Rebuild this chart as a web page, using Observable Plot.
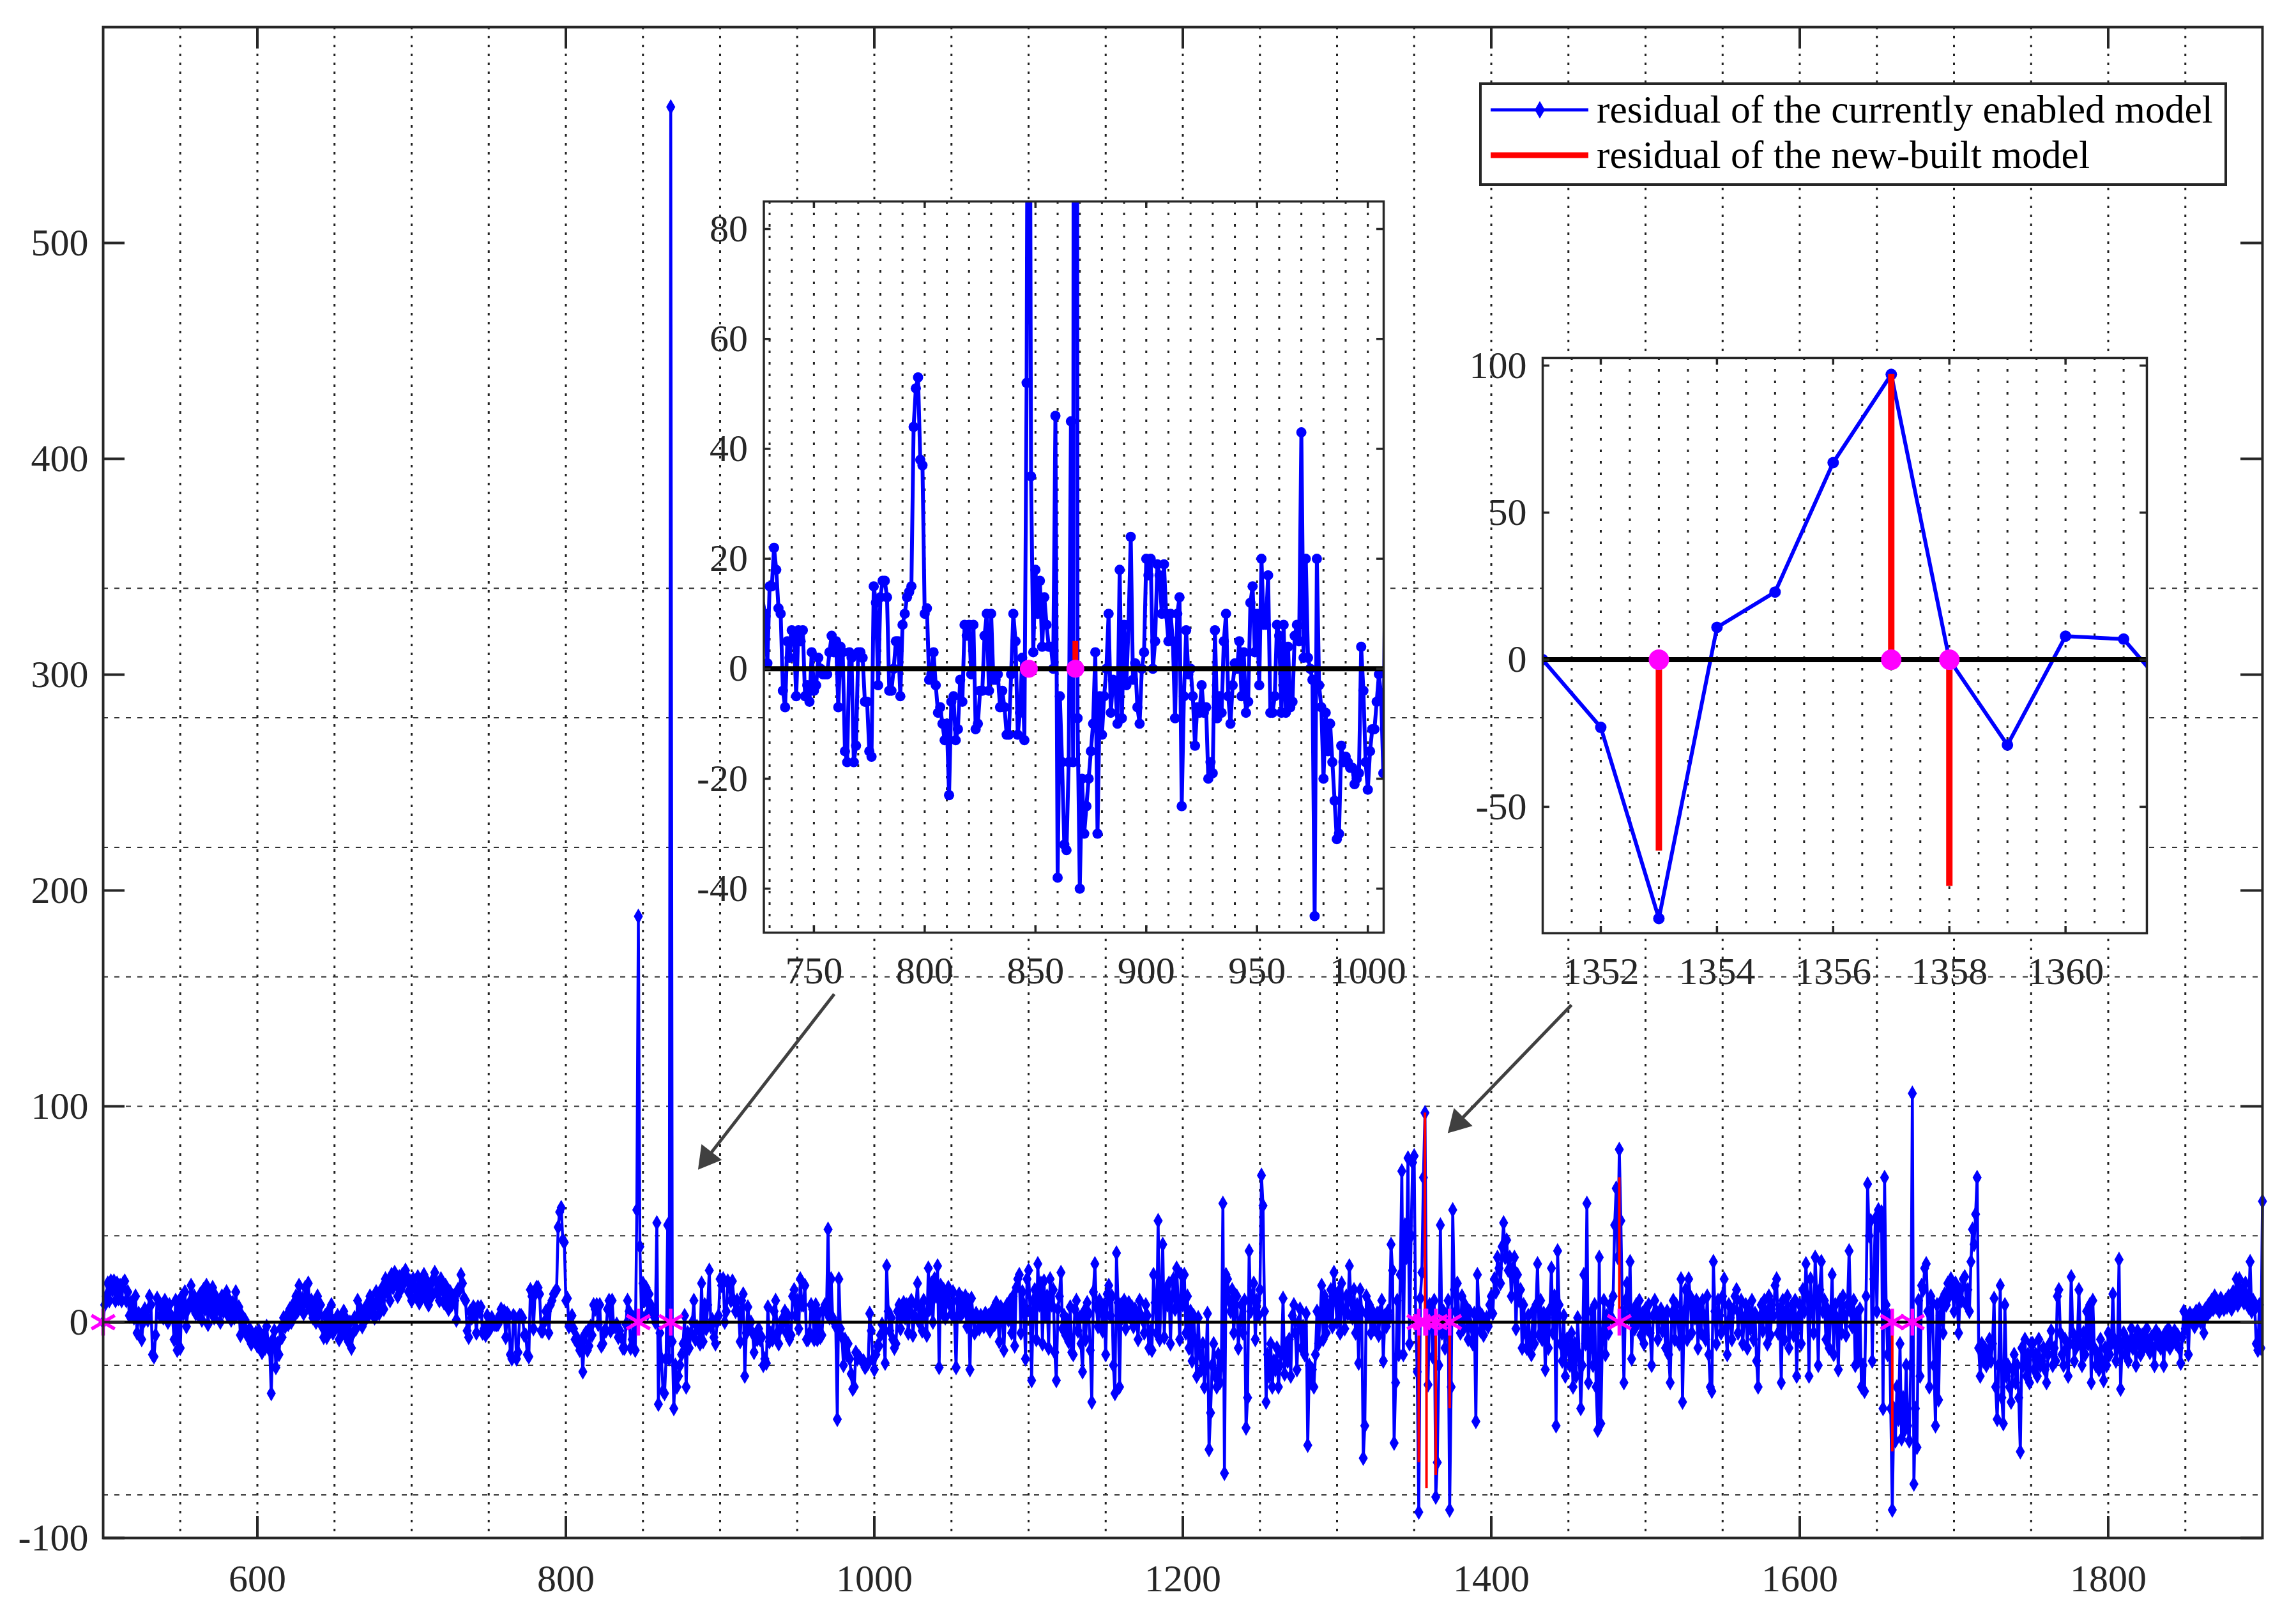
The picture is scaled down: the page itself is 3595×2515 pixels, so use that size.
<!DOCTYPE html>
<html><head><meta charset="utf-8">
<script src="https://cdn.jsdelivr.net/npm/d3@7"></script>
<script src="https://cdn.jsdelivr.net/npm/@observablehq/plot@0.6"></script>
<style>
body{margin:0;background:#fff;}
#wrap{position:relative;width:3595px;height:2515px;background:#fff;overflow:hidden;}
#wrap > *{position:absolute;}
</style></head><body><div id="wrap"></div>
<script>
// ---------------- data (residual of the currently enabled model, x = 500..1900) ----------------
const v500=[0,8,12,18,10,19,15,19,10,18, 11,17,10,18,19,10,14,3,9,5, 2,12,-5,4,3,-8,0,6,3,1, 12,8,-15,-16,-6,11,9,3,7,2, 10,5,0,8,3,2,-8,10,-13,8, -12,12,4,14,-2,6,9,17,7,12, 4,10,3,13,1,15,6,17,-1,14, 5,16,2,12,6,9,0,12,5,8, 14,3,10,1,9,2,14,4,7,-6, 3,-3,1,-5,-7,-3,-10,-6,-8,-5];
const v600=[-11,-4,-9,-14,-6,-12,-2,-10,-13,-33, -8,-4,-21,-10,-15,-3,-7,2,-2,3, -1,6,0,8,3,12,5,17,8,11, 4,16,9,18,6,10,2,9,0,12, 4,8,-2,-7,3,-7,5,-3,8,-5, 0,-2,3,-8,2,-4,5,-6,1,-9, 0,-12,-5,2,-3,10,3,6,-2,4, 1,8,3,12,6,9,2,14,8,4, 11,16,6,20,14,19,10,22,16,23, 20,12,21,15,22,18,24,21,14,19];
const v700=[10,20,16,12,21,9,18,13,22,11, 19,8,17,12,20,23,14,18,10,20, 15,9,17,12,6,14,8,12,10,1, 15,15,22,18,11,10,-4,-7,5,2, 7,6,-5,7,5,7,-5,-3,-6,3, -4,-3,2,0,-1,-1,-1,3,6,3, 5,-7,4,3,-15,-17,3,2,-17,-14, 3,3,2,-6,-6,-15,-16,15,12,-3, 13,16,16,13,-4,-4,0,5,5,-5, 8,10,13,14,15,44,51,53,38,37];
const v800=[10,11,-2,-1,3,-3,-8,-7,-10,-13, -10,-23,-6,-5,-13,-11,-2,-6,8,6, 8,-1,8,-11,-10,-4,-4,6,10,-4, 10,-2,-2,-1,-7,-4,-7,-12,-12,-1, 10,5,-12,-8,2,-13,52,188,35,3, 18,10,16,4,13,8,4,4,0,46, -38,-5,-17,-32,-33,-17,45,-17,563,-9, -40,-20,-30,-25,-20,-15,-10,3,-30,-5, -12,-5,0,10,-8,-2,-3,-10,18,-9, 8,-3,8,24,-2,1,-7,-10,0,3];
const v900=[20,17,20,0,5,19,17,10,19,10, 5,10,5,-9,10,13,-25,-5,7,-1, 0,-5,-14,-7,-8,-3,-8,-7,-20,-17, -19,7,-9,-5,-8,5,10,-5,-10,-3, 1,0,5,-5,3,-8,-6,12,15,3, 10,-3,20,8,8,17,-8,-8,-5,8, 6,-8,8,-8,4,-7,-6,6,8,5, 43,2,20,2,0,-2,-45,20,-3,-7, -20,-8,-15,-10,-17,-24,-31,-30,-14,-17, -16,-17,-18,-18,-21,-20,-19,4,-4,-17];
const v1000=[-22,-15,-11,-11,-6,-1,-5,-19,26,5, -4,2,-8,-12,-10,5,8,-3,6,9, 2,8,-5,5,10,-6,3,8,18,0, 7,-4,10,3,-6,25,6,18,0,20, 12,26,-21,17,5,15,2,12,16,8, 4,14,2,-21,10,13,3,11,5,12, -2,10,-22,11,3,-5,4,2,-3,3, 1,-2,4,0,3,-4,2,6,-1,9, 3,-9,7,2,-13,5,8,1,10,-5, 12,-11,16,20,22,-5,14,8,-17,20];
const v1100=[24,5,-27,10,15,-8,27,8,18,-10, 19,3,12,-12,20,8,15,-14,-27,6, 12,23,-3,3,-6,1,-9,7,-14,-15, 6,10,-4,2,-10,-23,5,-8,9,4, -13,-37,14,27,7,-2,10,5,-4,8, -15,13,17,3,12,-20,-33,32,9,-30, 8,2,10,-3,6,9,2,7,-2,6, 4,-8,10,3,1,-5,8,3,-12,-4, -13,22,9,-5,47,-8,14,36,-7,15, 8,18,-10,12,20,6,25,10,-8,22];
const v1200=[8,22,-5,12,-12,5,-18,3,-8,-25, 2,-15,-22,-10,-30,-20,4,-59,-42,-20, -10,-25,-30,-15,-28,-20,55,-70,22,20, 10,5,15,-5,8,12,-12,0,8,-5, 10,-49,-35,33,5,12,18,-8,10,3, 15,68,54,5,-37,-15,-25,-10,-30,-18, -22,-12,-30,-20,-15,11,-24,-10,-18,-8, -25,3,8,-5,-22,0,6,-12,-2,-15, 4,-57,-20,-28,-22,-30,-15,5,-10,2, 17,-8,12,-5,8,3,15,-2,23,10];
const v1300=[0,14,-5,18,6,-3,12,4,26,10, 2,15,-5,8,-19,15,5,-63,-48,12, 3,8,-5,5,-3,2,4,-6,5,10, -18,3,-2,5,2,36,24,-56,-28,10, -15,22,70,-15,45,30,76,-10,40,74, 77,0,-23,-88,11,23,67,97,0,-29, 8,7,-16,10,-81,-65,-20,45,-5,5, -12,0,10,-87,-30,52,15,5,18,2, -5,12,-3,8,2,-8,5,-2,-10,4, -46,22,5,-4,3,-6,0,2,-2,8];
const v1400=[12,4,20,14,30,25,18,35,46,30, 38,24,30,12,25,30,-3,22,10,15, -12,8,-5,-12,3,-8,-15,5,-10,8, 27,-6,10,-8,4,-22,2,-12,6,25, -5,12,-48,33,8,-10,-18,3,-25,-8, -12,-20,-5,-30,-10,-25,2,-15,-40,-20, 22,-10,55,-28,-12,5,-20,8,-30,-50, 30,-47,-8,10,-15,3,-5,8,2,12, 45,62,30,80,47,5,-28,10,18,2, 28,-17,5,-3,8,0,10,-6,4,-10];
const v1500=[6,-3,8,-5,-20,3,10,5,-8,2, 6,-4,3,-12,5,-15,-28,4,10,-8, 8,3,-10,20,-37,5,15,-8,20,12, -5,8,2,10,-12,6,-5,10,3,-8, 12,-15,-30,-32,28,5,-10,10,3,-5, 12,20,-3,-15,8,2,-8,6,12,15, -5,4,10,-10,2,8,-12,5,-3,10, -8,4,-18,-30,2,8,-4,10,5,-10, 12,-6,8,3,17,20,-5,6,-28,10, -8,5,12,-12,4,8,-6,10,-25,2];
const v1600=[8,-10,15,5,27,12,-25,20,8,-5, 30,12,-20,15,28,5,10,-8,6,-12, 3,22,-15,8,2,-22,10,-5,12,3, -6,8,33,5,-2,10,-20,4,-18,6, -30,-20,-32,12,64,40,47,-18,20,48, 5,52,45,51,-40,67,8,-15,3,-40, -87,-40,-55,-30,-45,-10,-54,-35,-50,-20, -48,-55,-20,106,-75,-40,-58,10,-25,17, 15,25,27,5,-30,12,9,-20,-48,8, -36,3,10,-5,13,8,18,12,20,15];
const v1700=[5,18,12,-5,15,10,20,21,8,15, 5,28,43,36,50,67,-12,-25,-10,-18, -12,-20,-15,-8,-18,-10,11,-30,-45,-20, 17,-35,-47,8,-25,-20,-30,-37,-22,-15, -28,-20,-35,-60,-12,-20,-8,-25,-15,-28, -10,-10,-22,-15,-25,-8,-20,-18,-12,-22, -28,-15,-10,-4,-20,-12,-18,12,15,-5, -15,-20,-8,-12,-25,-10,21,-5,-18,-12, -8,15,-10,-20,-5,-15,5,-10,8,-28, 10,-12,-20,-15,-22,-8,-18,-27,-12,-20];
const v1800=[-5,-15,-10,13,-8,-18,-12,29,-31,-10, -5,-15,-8,-18,-10,-3,-12,-8,-20,-4, -10,-15,-6,-12,-8,-3,-10,-14,-7,-12, -20,-4,-10,-6,-12,-8,-20,-5,-10,-3, -12,-7,-9,-4,-10,-6,-12,-19,-7,5, -3,2,-15,4,1,3,-2,5,2,6, 0,4,-5,6,3,8,5,10,6,12, 7,9,5,11,8,6,10,7,12,9, 6,14,10,20,8,20,12,15,9,18, 12,7,28,5,10,6,-10,-13,8,-12,56];

// residual of the new-built model (stems) and model-switch instants
const stemX=[868,1353,1357,1358,1364,1373,1483,1660];
const stemY=[5,-65,97,-77,-71,-40,67,-60];
const switchX=[500,847,868,1353,1357,1358,1364,1373,1483,1660,1673];

// ticks / labels
const mainXTicks=[600,800,1000,1200,1400,1600,1800];
const mainYTicks=[-100,0,100,200,300,400,500];
const mainHGrid=[-80,-20,40,100,160,220,280,340];
const ins1XTicks=[750,800,850,900,950,1000];
const ins1YTicks=[-40,-20,0,20,40,60,80];
const ins2XTicks=[1352,1354,1356,1358,1360];
const ins2YTicks=[-50,0,50,100];
const legendLabels=["residual of the currently enabled model","residual of the new-built model"];
// zoom-arrow annotations (tail -> tip) in main data coordinates
const arrowTail=[[974,152],[1452,147]];
const arrowTip=[[885,70],[1371,87]];

// ---------------- build ----------------
const segs=[[500,v500],[600,v600],[700,v700],[800,v800],[900,v900],[1000,v1000],[1100,v1100],[1200,v1200],[1300,v1300],[1400,v1400],[1500,v1500],[1600,v1600],[1700,v1700],[1800,v1800]];
const series=segs.flatMap(([s,a])=>a.map((y,i)=>({x:s+i,y})));
const stems=stemX.map((x,i)=>({x,y:stemY[i]}));
const switches=switchX.map(x=>({x,y:0}));

const FONT="'Liberation Serif','Times New Roman',serif";
const INK="#262626";
const BLUE="#0000ff", RED="#ff0000", MAG="#ff00ff";
const fmt=d=>String(d);
const wrap=document.getElementById("wrap");

function boxTicks(xT,yT,xd,yd,lx,ly,sw){
  return [
    Plot.ruleX(xT,{y1:yd[0],y2:yd[0]+ly,stroke:INK,strokeWidth:sw}),
    Plot.ruleX(xT,{y1:yd[1]-ly,y2:yd[1],stroke:INK,strokeWidth:sw}),
    Plot.ruleY(yT,{x1:xd[0],x2:xd[0]+lx,stroke:INK,strokeWidth:sw}),
    Plot.ruleY(yT,{x1:xd[1]-lx,x2:xd[1],stroke:INK,strokeWidth:sw})
  ];
}

// main chart
{
  const W=3595,H=2515,mL=161,mR=53,mT=42,mB=107;
  const xd=[500,1900], yd=[-100,600];
  const sx=d3.scaleLinear(xd,[mL,W-mR]), sy=d3.scaleLinear(yd,[H-mB,mT]);
  const lx=34/((W-mL-mR)/(xd[1]-xd[0])), ly=34/((H-mT-mB)/(yd[1]-yd[0]));
  const arrows=arrowTail.map((t,i)=>{
    const tip=arrowTip[i];
    const px1=sx(t[0]),py1=sy(t[1]),px2=sx(tip[0]),py2=sy(tip[1]);
    const dx=px2-px1,dy=py2-py1,L=Math.hypot(dx,dy);
    const ux=dx/L,uy=dy/L;
    const back=26;
    return {x1:t[0],y1:t[1],
      x2:sx.invert(px2-ux*back*1.2),y2:sy.invert(py2-uy*back*1.2),
      hx:sx.invert(px2-ux*back),hy:sy.invert(py2-uy*back),
      rot:Math.atan2(dx,-dy)*180/Math.PI};
  });
  const chart=Plot.plot({
    width:W,height:H,marginLeft:mL,marginRight:mR,marginTop:mT,marginBottom:mB,
    style:{fontFamily:FONT,fontSize:"60px",color:INK,background:"transparent",overflow:"visible"},
    x:{domain:xd,label:null},y:{domain:yd,label:null},
    marks:[
      Plot.ruleX(d3.range(550,1900,50),{stroke:"#222",strokeWidth:3,strokeDasharray:"4,10"}),
      Plot.ruleY(mainHGrid,{stroke:"#333",strokeWidth:2,strokeDasharray:"8,10"}),
      Plot.line(series,{x:"x",y:"y",stroke:BLUE,strokeWidth:4.5}),
      Plot.dot(series,{x:"x",y:"y",fill:BLUE,r:7.5,symbol:"diamond"}),
      Plot.ruleY([0],{stroke:"#000",strokeWidth:4.5}),
      Plot.ruleX(stems,{x:"x",y1:0,y2:"y",stroke:RED,strokeWidth:4}),
      Plot.dot(switches,{x:"x",y:"y",symbol:"asterisk",stroke:MAG,strokeWidth:5.5,r:20}),
      Plot.link(arrows,{x1:"x1",y1:"y1",x2:"x2",y2:"y2",stroke:"#404040",strokeWidth:5}),
      Plot.dot(arrows,{x:"hx",y:"hy",symbol:"triangle",fill:"#404040",r:15,rotate:"rot"}),
      Plot.frame({stroke:INK,strokeWidth:4}),
      ...boxTicks(mainXTicks,mainYTicks,xd,yd,lx,ly,4),
      Plot.axisX({ticks:mainXTicks,anchor:"bottom",label:null,tickSize:0,tickPadding:41,tickFormat:fmt,fontSize:60,fill:INK}),
      Plot.axisY({ticks:mainYTicks,anchor:"left",label:null,tickSize:0,tickPadding:23,tickFormat:fmt,fontSize:60,fill:INK})
    ]
  });
  chart.style.left="0px";chart.style.top="0px";
  wrap.appendChild(chart);
}

function inset(o){
  const W=o.W,H=o.H;
  const pxX=(W-o.mL-o.mR)/(o.xd[1]-o.xd[0]), pxY=(H-o.mT-o.mB)/(o.yd[1]-o.yd[0]);
  const lx=11/pxX, ly=11/pxY;
  const stm=stems.filter(d=>d.x>=o.xd[0]&&d.x<=o.xd[1]);
  const sw=switches.filter(d=>d.x>=o.xd[0]&&d.x<=o.xd[1]&&d.x!==500);
  const ser=series.filter(d=>d.x>=o.xd[0]-2&&d.x<=o.xd[1]+2);
  const inside=series.filter(d=>d.x>=o.xd[0]-0.05&&d.x<=o.xd[1]);
  const chart=Plot.plot({
    width:W,height:H,marginLeft:o.mL,marginRight:o.mR,marginTop:o.mT,marginBottom:o.mB,
    style:{fontFamily:FONT,fontSize:"60px",color:INK,background:"transparent",overflow:"visible"},
    x:{domain:o.xd,label:null},y:{domain:o.yd,label:null},
    marks:[
      Plot.frame({fill:"#fff"}),
      Plot.ruleX(o.grid,{stroke:"#222",strokeWidth:3,strokeDasharray:"4,14"}),
      Plot.line(ser,{x:"x",y:"y",stroke:BLUE,strokeWidth:o.lw,clip:true}),
      Plot.dot(inside,{x:"x",y:"y",fill:BLUE,r:o.dr,clip:true}),
      Plot.ruleY([0],{stroke:"#000",strokeWidth:8}),
      Plot.ruleX(stm,{x:"x",y1:0,y2:"y",stroke:RED,strokeWidth:o.sw,clip:true}),
      Plot.dot(sw,{x:"x",y:"y",fill:MAG,r:o.mr}),
      Plot.frame({stroke:INK,strokeWidth:3.5}),
      ...boxTicks(o.xT,o.yT,o.xd,o.yd,lx,ly,3.5),
      Plot.axisX({ticks:o.xT,anchor:"bottom",label:null,tickSize:0,tickPadding:37,tickFormat:fmt,fontSize:60,fill:INK}),
      Plot.axisY({ticks:o.yT,anchor:"left",label:null,tickSize:0,tickPadding:25,tickFormat:fmt,fontSize:60,fill:INK})
    ]
  });
  chart.style.left=o.left+"px";chart.style.top=o.top+"px";
  wrap.appendChild(chart);
}

inset({left:1060,top:285,W:1176,H:1285,mL:135.5,mT:30,mR:70,mB:110,
  xd:[727.4,1007.15],yd:[-48,85],xT:ins1XTicks,yT:ins1YTicks,
  grid:d3.range(730,1008,10),lw:6,dr:8,sw:9,mr:14});
inset({left:2280,top:530,W:1151,H:1041,mL:135,mT:30,mR:70,mB:110,
  xd:[1351,1361.4],yd:[-93,102.6],xT:ins2XTicks,yT:ins2YTicks,
  grid:d3.range(1351.5,1361.4,0.5),lw:6,dr:9,sw:10,mr:16});

// legend (inside the main axes, top-right)
{
  const lg=d3.create("svg").attr("width",1171).attr("height",162)
    .style("left","2316px").style("top","129px").style("font-family",FONT);
  lg.append("rect").attr("x",2).attr("y",2).attr("width",1167).attr("height",158)
    .attr("fill","#fff").attr("stroke",INK).attr("stroke-width",4);
  const rows=[{y:43,c:BLUE,w:5,m:true},{y:114,c:RED,w:9,m:false}];
  rows.forEach((r,i)=>{
    lg.append("line").attr("x1",18).attr("x2",171).attr("y1",r.y).attr("y2",r.y)
      .attr("stroke",r.c).attr("stroke-width",r.w);
    if(r.m) lg.append("path").attr("d",d3.symbol(d3.symbolDiamond,220)()).attr("transform",`translate(95,${r.y})`).attr("fill",r.c);
    lg.append("text").attr("x",184).attr("y",r.y).attr("dy","0.33em").attr("font-size",61.5)
      .attr("fill","#000").text(legendLabels[i]);
  });
  wrap.appendChild(lg.node());
}
</script></body></html>
